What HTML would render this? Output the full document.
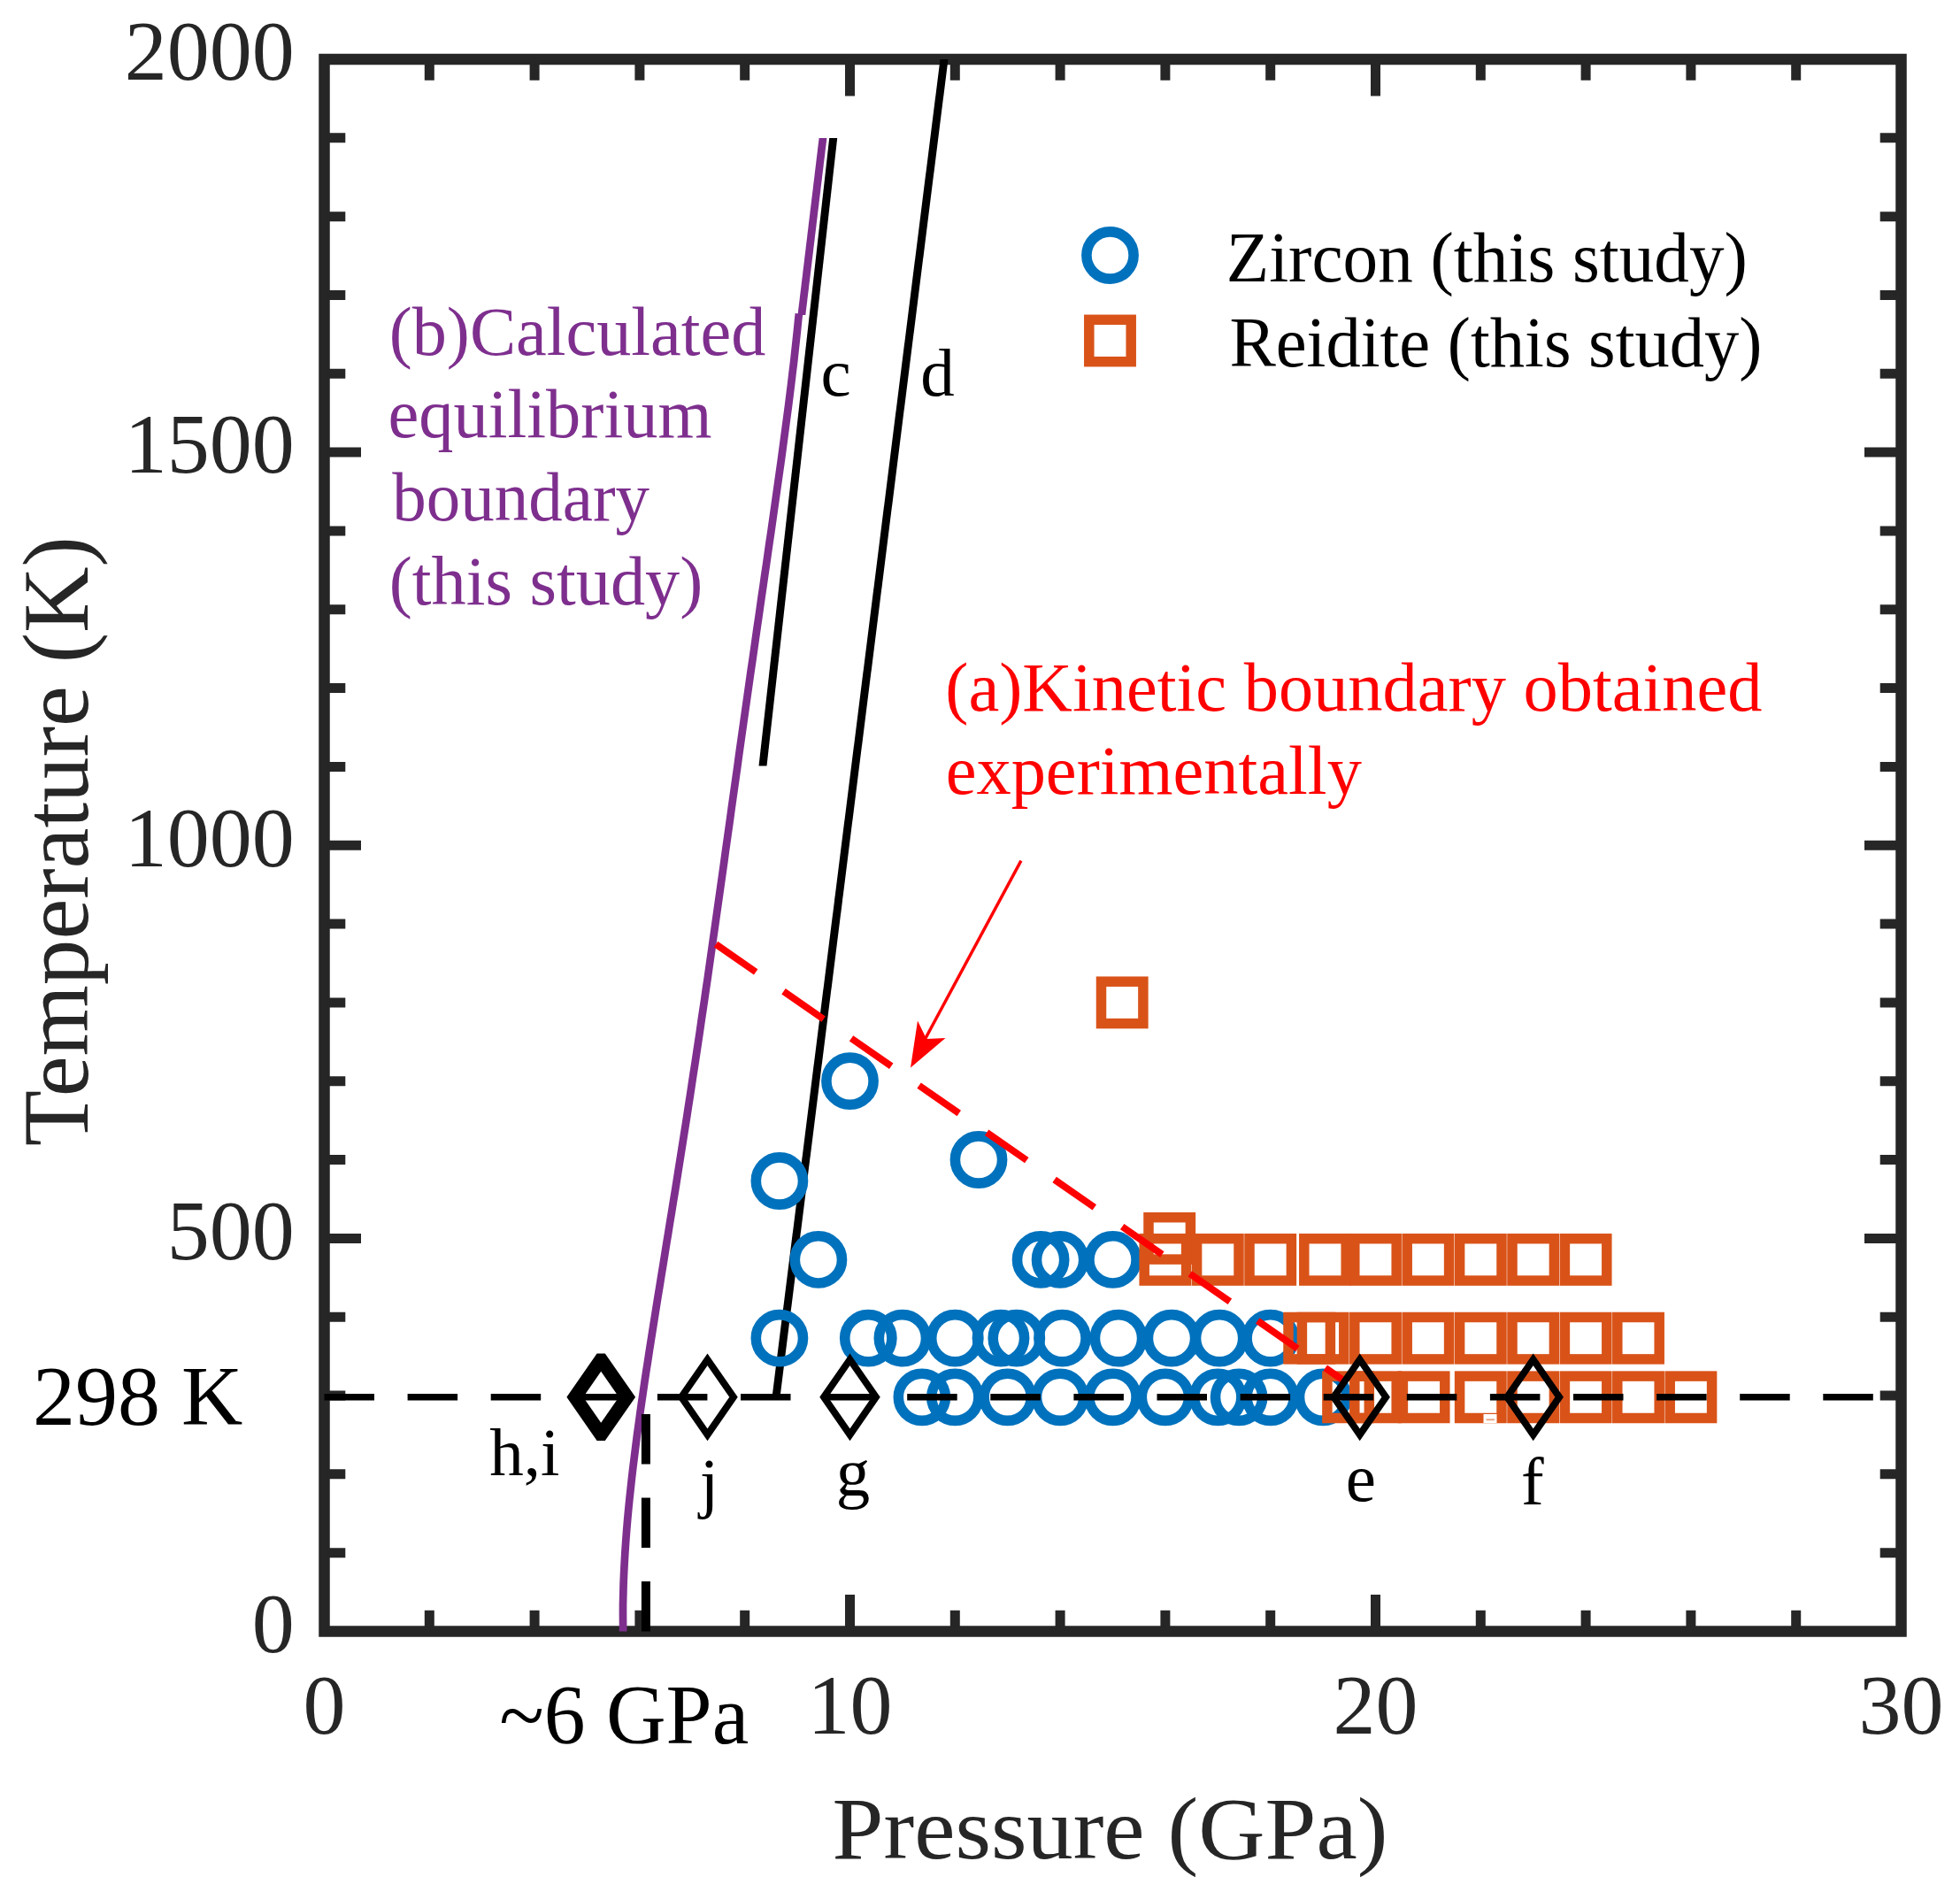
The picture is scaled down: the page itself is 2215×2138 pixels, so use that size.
<!DOCTYPE html>
<html><head><meta charset="utf-8"><title>Zircon-Reidite phase diagram</title>
<style>html,body{margin:0;padding:0;background:#fff}svg{display:block}text{font-family:"Liberation Serif","Times New Roman",serif}</style>
</head><body>
<svg width="2215" height="2138" viewBox="0 0 2215 2138">
<rect width="2215" height="2138" fill="#fff"/>
<path d="M485.3 1843.5V1819.7M485.3 67V90.8M604.1 1843.5V1819.7M604.1 67V90.8M722.9 1843.5V1819.7M722.9 67V90.8M841.7 1843.5V1819.7M841.7 67V90.8M960.5 1843.5V1802M960.5 67V108.5M1079.3 1843.5V1819.7M1079.3 67V90.8M1198.1 1843.5V1819.7M1198.1 67V90.8M1316.9 1843.5V1819.7M1316.9 67V90.8M1435.7 1843.5V1819.7M1435.7 67V90.8M1554.5 1843.5V1802M1554.5 67V108.5M1673.3 1843.5V1819.7M1673.3 67V90.8M1792.1 1843.5V1819.7M1792.1 67V90.8M1910.9 1843.5V1819.7M1910.9 67V90.8M2029.7 1843.5V1819.7M2029.7 67V90.8M366.5 1754.7H390.3M2148.5 1754.7H2124.7M366.5 1665.8H390.3M2148.5 1665.8H2124.7M366.5 1577H390.3M2148.5 1577H2124.7M366.5 1488.2H390.3M2148.5 1488.2H2124.7M366.5 1399.4H408M2148.5 1399.4H2107M366.5 1310.5H390.3M2148.5 1310.5H2124.7M366.5 1221.7H390.3M2148.5 1221.7H2124.7M366.5 1132.9H390.3M2148.5 1132.9H2124.7M366.5 1044.1H390.3M2148.5 1044.1H2124.7M366.5 955.2H408M2148.5 955.2H2107M366.5 866.4H390.3M2148.5 866.4H2124.7M366.5 777.6H390.3M2148.5 777.6H2124.7M366.5 688.8H390.3M2148.5 688.8H2124.7M366.5 600H390.3M2148.5 600H2124.7M366.5 511.1H408M2148.5 511.1H2107M366.5 422.3H390.3M2148.5 422.3H2124.7M366.5 333.5H390.3M2148.5 333.5H2124.7M366.5 244.7H390.3M2148.5 244.7H2124.7M366.5 155.8H390.3M2148.5 155.8H2124.7" stroke="#262626" stroke-width="11" fill="none"/>
<rect x="366.5" y="67" width="1782" height="1776.5" stroke="#262626" stroke-width="12.5" fill="none"/>
<text x="332.8" y="1866.7" text-anchor="end" font-size="96" fill="#262626">0</text>
<text x="332.8" y="1422.6" text-anchor="end" font-size="96" fill="#262626">500</text>
<text x="332.8" y="978.5" text-anchor="end" font-size="96" fill="#262626">1000</text>
<text x="332.8" y="534.3" text-anchor="end" font-size="96" fill="#262626">1500</text>
<text x="332.8" y="90.2" text-anchor="end" font-size="96" fill="#262626">2000</text>
<text x="366.5" y="1959" text-anchor="middle" font-size="96" fill="#262626">0</text>
<text x="960.5" y="1959" text-anchor="middle" font-size="96" fill="#262626">10</text>
<text x="1554.5" y="1959" text-anchor="middle" font-size="96" fill="#262626">20</text>
<text x="2148.5" y="1959" text-anchor="middle" font-size="96" fill="#262626">30</text>
<text transform="translate(98.5 1295.1) rotate(-90)" font-size="106" fill="#262626" textLength="689" lengthAdjust="spacingAndGlyphs">Temperature (K)</text>
<text x="940.6" y="2099.6" font-size="100" fill="#262626" textLength="627.8" lengthAdjust="spacingAndGlyphs">Pressure (GPa)</text>
<text x="37.1" y="1610.4" font-size="96" fill="#000">298 K</text>
<text x="564.2" y="1969.5" font-size="95" fill="#000" textLength="282" lengthAdjust="spacingAndGlyphs">~6 GPa</text>
<path d="M925.6 156L934.4 156L910.3 356L901.5 356Z" fill="#7E2F8E"/>
<path d="M902.9 354.5L902.1 362L900.9 374L899.6 386L898.3 398L897 410L895.5 422L894.1 434L892.6 446L891.1 458L889.5 470L887.9 482L886.3 494L884.7 506L883.1 518L881.4 530L879.7 542L878 554L876.3 566L874.6 578L872.9 590L871.2 602L869.4 614L867.7 626L866 638L864.2 650L862.5 662L860.7 674L859 686L857.3 698L855.5 710L853.8 722L852.1 734L850.4 746L848.6 758L846.9 770L845.2 782L843.5 794L841.8 806L840.1 818L838.4 830L836.7 842L835 854L833.4 866L831.7 878L830 890L828.3 902L826.6 914L825 926L823.3 938L821.6 950L819.9 962L818.3 974L816.6 986L814.9 998L813.2 1010L811.5 1022L809.8 1034L808.1 1046L806.4 1058L804.7 1070L803 1082L801.3 1094L799.6 1106L797.8 1118L796.1 1130L794.3 1142L792.5 1154L790.8 1166L789 1178L787.2 1190L785.4 1202L783.5 1214L781.7 1226L779.9 1238L778 1250L776.2 1262L774.3 1274L772.4 1286L770.5 1298L768.6 1310L766.7 1322L764.8 1334L762.9 1346L760.9 1358L759 1370L757 1382L755.1 1394L753.1 1406L751.2 1418L749.3 1430L747.3 1442L745.4 1454L743.4 1466L741.5 1478L739.6 1490L737.7 1502L735.8 1514L733.9 1526L732.1 1538L730.2 1550L728.4 1562L726.7 1574L724.9 1586L723.2 1598L721.6 1610L719.9 1622L718.4 1634L716.9 1646L715.4 1658L714 1670L712.7 1682L711.4 1694L710.2 1706L709.1 1718L708.1 1730L707.2 1742L706.4 1754L705.7 1766L705.1 1778L704.6 1790L704.3 1802L704 1814L704 1826L704.1 1838L704.1 1843.5" stroke="#7E2F8E" stroke-width="8.7" fill="none" stroke-linejoin="round"/>
<path d="M937.2 156L946.2 156L866.5 865.5L857.5 865.5Z" fill="#000"/>
<path d="M1062.5 67L1071.5 67L881.5 1578.8L872.5 1578.8Z" fill="#000"/>
<g fill="none" stroke="#0072BD" stroke-width="11.6"><circle cx="924.9" cy="1423.4" r="26.6"/><circle cx="1176.1" cy="1423.4" r="26.6"/><circle cx="1198.1" cy="1423.4" r="26.6"/><circle cx="1257.5" cy="1423.4" r="26.6"/><circle cx="880.9" cy="1512.2" r="26.6"/><circle cx="981.3" cy="1512.2" r="26.6"/><circle cx="1019.9" cy="1512.2" r="26.6"/><circle cx="1079.3" cy="1512.2" r="26.6"/><circle cx="1131" cy="1512.2" r="26.6"/><circle cx="1148.8" cy="1512.2" r="26.6"/><circle cx="1200.5" cy="1512.2" r="26.6"/><circle cx="1264" cy="1512.2" r="26.6"/><circle cx="1324" cy="1512.2" r="26.6"/><circle cx="1378.1" cy="1512.2" r="26.6"/><circle cx="1435.7" cy="1512.2" r="26.6"/><circle cx="1041.9" cy="1578.8" r="26.6"/><circle cx="1079.3" cy="1578.8" r="26.6"/><circle cx="1138.7" cy="1578.8" r="26.6"/><circle cx="1198.1" cy="1578.8" r="26.6"/><circle cx="1257.5" cy="1578.8" r="26.6"/><circle cx="1316.9" cy="1578.8" r="26.6"/><circle cx="1376.3" cy="1578.8" r="26.6"/><circle cx="1400.1" cy="1578.8" r="26.6"/><circle cx="1435.7" cy="1578.8" r="26.6"/><circle cx="1495.1" cy="1578.8" r="26.6"/><circle cx="880.9" cy="1334.5" r="26.6"/><circle cx="1106" cy="1310.5" r="26.6"/><circle cx="960.5" cy="1221.7" r="26.6"/></g>
<g fill="none" stroke="#D95319" stroke-width="11.5"><rect x="1244.5" y="1109.2" width="47.4" height="47.4"/><rect x="1298" y="1375.7" width="47.4" height="47.4"/><rect x="1293.2" y="1399.7" width="47.4" height="47.4"/><rect x="1352.6" y="1399.7" width="47.4" height="47.4"/><rect x="1412" y="1399.7" width="47.4" height="47.4"/><rect x="1473.8" y="1399.7" width="47.4" height="47.4"/><rect x="1530.8" y="1399.7" width="47.4" height="47.4"/><rect x="1590.2" y="1399.7" width="47.4" height="47.4"/><rect x="1649.6" y="1399.7" width="47.4" height="47.4"/><rect x="1709" y="1399.7" width="47.4" height="47.4"/><rect x="1768.4" y="1399.7" width="47.4" height="47.4"/><rect x="1456" y="1488.5" width="47.4" height="47.4"/><rect x="1471.4" y="1488.5" width="47.4" height="47.4"/><rect x="1530.8" y="1488.5" width="47.4" height="47.4"/><rect x="1590.2" y="1488.5" width="47.4" height="47.4"/><rect x="1649.6" y="1488.5" width="47.4" height="47.4"/><rect x="1709" y="1488.5" width="47.4" height="47.4"/><rect x="1768.4" y="1488.5" width="47.4" height="47.4"/><rect x="1827.8" y="1488.5" width="47.4" height="47.4"/><rect x="1499.9" y="1555.1" width="47.4" height="47.4"/><rect x="1530.8" y="1555.1" width="47.4" height="47.4"/><rect x="1585.4" y="1555.1" width="47.4" height="47.4"/><rect x="1649.6" y="1555.1" width="47.4" height="47.4"/><rect x="1709" y="1555.1" width="47.4" height="47.4"/><rect x="1768.4" y="1555.1" width="47.4" height="47.4"/><rect x="1827.8" y="1555.1" width="47.4" height="47.4"/><rect x="1887.2" y="1555.1" width="47.4" height="47.4"/></g>
<rect x="1676.5" y="1598" width="15" height="10" fill="#fff"/><path d="M1679.5 1604.3H1689" stroke="#E9A07E" stroke-width="1.8"/>
<path d="M366.5 1578.8H2148.5" stroke="#000" stroke-width="7.6" stroke-dasharray="56.5 37.6"/>
<path d="M729.9 1843.5V1578.8" stroke="#000" stroke-width="10" stroke-dasharray="56.5 38"/>
<path d="M809 1067L1519 1560.5" stroke="#F00" stroke-width="7.8" stroke-dasharray="55 38.2"/>
<path d="M1153.9 972.6L1045 1175" stroke="#F00" stroke-width="3.5"/>
<path d="M1029 1206.4L1037 1153.5L1047 1174L1068.5 1173Z" fill="#F00"/>
<g fill="none" stroke="#000" stroke-width="7.8" stroke-linejoin="miter"><path d="M770 1578.8L799.5 1536.3L829 1578.8L799.5 1621.3Z"/><path d="M931 1578.8L960.5 1536.3L990 1578.8L960.5 1621.3Z"/><path d="M1507.2 1578.8L1536.7 1536.3L1566.2 1578.8L1536.7 1621.3Z"/><path d="M1703.2 1578.8L1732.7 1536.3L1762.2 1578.8L1732.7 1621.3Z"/></g>
<path fill-rule="evenodd" fill="#000" d="M640.4 1578.8L674.6 1529.5L683.8 1529.5L718.1 1578.8L683.8 1628.1L674.6 1628.1ZM659.1 1578.8L679.2 1549.8L699.4 1578.8L679.2 1607.8Z"/>
<text x="927.4" y="447.1" font-size="77" fill="#000">c</text>
<text x="1040.2" y="447.1" font-size="77" fill="#000">d</text>
<text x="553.3" y="1666.9" font-size="77" fill="#000">h,i</text>
<text x="790.8" y="1701" font-size="77" fill="#000">j</text>
<text x="944.7" y="1690" font-size="77" fill="#000">g</text>
<text x="1520.8" y="1695.5" font-size="77" fill="#000">e</text>
<text x="1719" y="1700" font-size="77" fill="#000">f</text>
<text x="439.7" y="401" font-size="79" fill="#7E2F8E" textLength="425.7" lengthAdjust="spacingAndGlyphs">(b)Calculated</text>
<text x="438.4" y="494.1" font-size="79" fill="#7E2F8E" textLength="366.1" lengthAdjust="spacingAndGlyphs">equilibrium</text>
<text x="443.3" y="588.4" font-size="79" fill="#7E2F8E" textLength="290.7" lengthAdjust="spacingAndGlyphs">boundary</text>
<text x="439.7" y="682.7" font-size="79" fill="#7E2F8E" textLength="354.6" lengthAdjust="spacingAndGlyphs">(this study)</text>
<text x="1068.3" y="802.7" font-size="78.4" fill="#F00" textLength="923.2" lengthAdjust="spacingAndGlyphs">(a)Kinetic boundary obtained</text>
<text x="1068.7" y="897.2" font-size="78.4" fill="#F00">experimentally</text>
<circle cx="1254.5" cy="288.5" r="26.6" fill="none" stroke="#0072BD" stroke-width="11.6"/>
<rect x="1230.8" y="361.3" width="47.4" height="47.4" fill="none" stroke="#D95319" stroke-width="11.5"/>
<text x="1385.8" y="318.4" font-size="80" fill="#000" textLength="589" lengthAdjust="spacingAndGlyphs">Zircon (this study)</text>
<text x="1389.4" y="413.5" font-size="80" fill="#000" textLength="602" lengthAdjust="spacingAndGlyphs">Reidite (this study)</text>
</svg>
</body></html>
